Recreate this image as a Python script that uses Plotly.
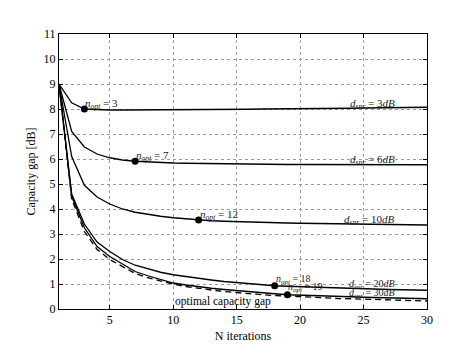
import plotly.graph_objects as go

n_iter = list(range(1, 31))

gap_3dB = [9.0, 8.25, 8.0, 7.97, 7.96, 7.96, 7.96, 7.96, 7.96, 7.97, 7.97, 7.97, 7.98, 7.98, 7.99,
           7.99, 8.0, 8.0, 8.01, 8.01, 8.02, 8.02, 8.03, 8.03, 8.04, 8.05, 8.05, 8.06, 8.06, 8.07]
gap_6dB = [9.0, 7.1, 6.48, 6.2, 6.05, 5.96, 5.91, 5.88, 5.86, 5.84, 5.83, 5.82, 5.81, 5.80, 5.80,
           5.79, 5.79, 5.79, 5.78, 5.78, 5.78, 5.78, 5.77, 5.77, 5.77, 5.77, 5.77, 5.77, 5.77, 5.77]
gap_10dB = [9.0, 6.1, 4.95, 4.48, 4.2, 4.0, 3.87, 3.78, 3.71, 3.65, 3.6, 3.56, 3.53, 3.51, 3.49,
            3.47, 3.46, 3.45, 3.44, 3.43, 3.42, 3.41, 3.4, 3.4, 3.39, 3.38, 3.38, 3.37, 3.37, 3.36]
gap_20dB = [9.0, 4.6, 3.4, 2.68, 2.3, 1.98, 1.75, 1.6, 1.47, 1.37, 1.29, 1.22, 1.16, 1.1, 1.05,
            1.0, 0.96, 0.93, 0.91, 0.89, 0.87, 0.85, 0.83, 0.81, 0.8, 0.79, 0.78, 0.77, 0.76, 0.75]
gap_30dB = [9.0, 4.5, 3.25, 2.5, 2.1, 1.8, 1.5, 1.33, 1.19, 1.04, 0.96, 0.88, 0.83, 0.78, 0.73,
            0.69, 0.65, 0.61, 0.57, 0.56, 0.54, 0.52, 0.5, 0.49, 0.47, 0.46, 0.45, 0.43, 0.42, 0.41]
gap_optimal = [9.0, 4.4, 3.1, 2.38, 1.98, 1.7, 1.42, 1.25, 1.12, 0.99, 0.9, 0.82, 0.76, 0.7, 0.65,
               0.61, 0.57, 0.54, 0.51, 0.49, 0.46, 0.44, 0.42, 0.41, 0.39, 0.37, 0.36, 0.35, 0.33, 0.32]

snr_labels = ["3", "6", "10", "20", "30"]
series = [gap_3dB, gap_6dB, gap_10dB, gap_20dB, gap_30dB]
n_opt = [3, 7, 12, 18, 19]

FONT = "Liberation Serif"

fig = go.Figure()

for ys in series:
    fig.add_trace(go.Scatter(x=n_iter, y=ys, mode="lines",
                             line=dict(color="black", width=1.3), showlegend=False,
                             hoverinfo="skip"))

fig.add_trace(go.Scatter(x=n_iter, y=gap_optimal, mode="lines",
                         line=dict(color="black", width=1.3, dash="6px,4px"),
                         showlegend=False, hoverinfo="skip"))

# optimal points
opt_x = n_opt
opt_y = [s[n - 1] for s, n in zip(series, n_opt)]
fig.add_trace(go.Scatter(x=opt_x, y=opt_y, mode="markers",
                         marker=dict(color="black", size=7), showlegend=False,
                         hoverinfo="skip"))

# n_opt annotations
nopt_dy = [0.2, 0.2, 0.21, 0.26, 0.28]
nopt_size = [11, 11, 11, 10, 10]
for n, y, dy, fs in zip(opt_x, opt_y, nopt_dy, nopt_size):
    fig.add_annotation(x=n, y=y + dy, xref="x", yref="y",
                       text=f"<i>n<sub>opt</sub></i> = {n}", showarrow=False,
                       xanchor="left", yanchor="middle", xshift=-1,
                       font=dict(family=FONT, size=fs, color="#222"))

# d_snr annotations
label_dy = [0.16, 0.18, 0.19, 0.2, 0.16]
label_size = [11, 11, 11, 10, 10]
for lab, ys, dy, fs in zip(snr_labels, series, label_dy, label_size):
    fig.add_annotation(x=27.6, y=ys[26] + dy, xref="x", yref="y",
                       text=f"<i>d<sub>snr</sub></i> = {lab}<i>dB</i>", showarrow=False,
                       xanchor="right", yanchor="middle",
                       font=dict(family=FONT, size=fs, color="#222"))

fig.add_annotation(x=9.95, y=0.3, xref="x", yref="y", text="optimal capacity gap",
                   showarrow=False, xanchor="left", yanchor="middle",
                   font=dict(family=FONT, size=11.5, color="black"))

axis_common = dict(showline=True, linecolor="black", linewidth=1, mirror="ticks",
                   ticks="inside", ticklen=4, tickcolor="black",
                   showgrid=True, gridcolor="#9a9a9a", griddash="dot", gridwidth=1,
                   zeroline=False, tickfont=dict(family=FONT, size=12, color="black"))

fig.update_xaxes(range=[1, 30], tickvals=[5, 10, 15, 20, 25, 30],
                 title=dict(text="N iterations", font=dict(family=FONT, size=12, color="black"),
                            standoff=5),
                 **axis_common)
fig.update_yaxes(range=[0, 11], tickvals=list(range(0, 12)),
                 title=dict(text="Capacity gap [dB]", font=dict(family=FONT, size=12, color="black"),
                            standoff=5),
                 **axis_common)

fig.update_layout(width=474, height=353, margin=dict(l=59, r=47, t=34, b=36),
                  plot_bgcolor="white", paper_bgcolor="white", showlegend=False)

fig.write_html("out.html")
